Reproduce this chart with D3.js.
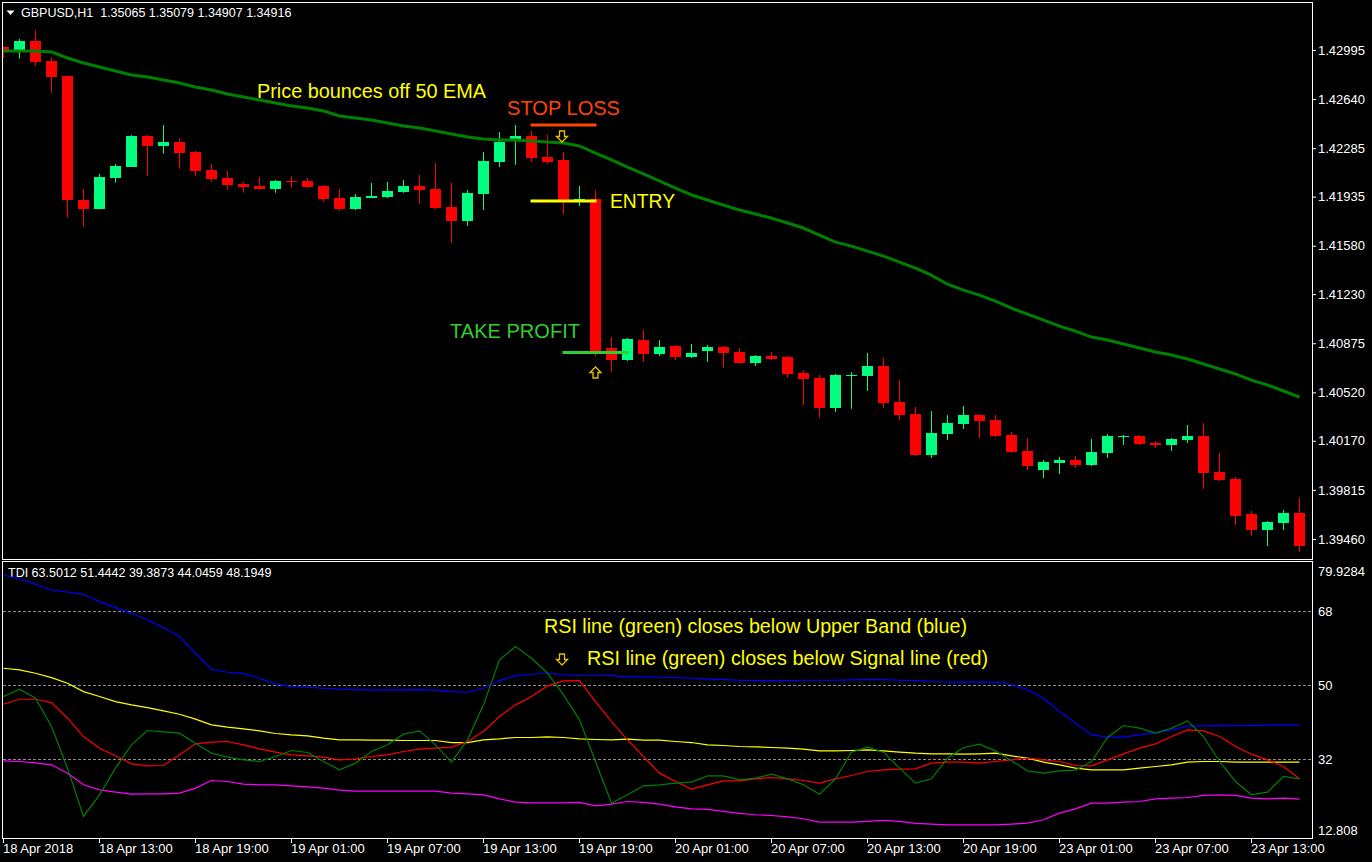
<!DOCTYPE html>
<html><head><meta charset="utf-8">
<script src="https://cdn.jsdelivr.net/npm/d3@7"></script>
<style>html,body{margin:0;padding:0;background:#000;}svg{display:block}</style>
</head><body><svg id="c" width="1372" height="862"></svg>
<script>
// ---------- DATA ----------
const opens = [1.43019,1.42995,1.43060,1.42915,1.42807,1.41911,1.41846,1.42072,1.42151,1.42373,1.42303,1.42330,1.42258,1.42127,1.42070,1.42026,1.42012,1.41990,1.42048,1.42048,1.42012,1.41925,1.41846,1.41925,1.41932,1.41969,1.42012,1.41990,1.41860,1.41759,1.41954,1.42185,1.42352,1.42373,1.42222,1.42200,1.41903,1.41918,1.40841,1.40754,1.40899,1.40797,1.40855,1.40776,1.40819,1.40848,1.40812,1.40732,1.40783,1.40776,1.40660,1.40624,1.40407,1.40638,1.40638,1.40711,1.40450,1.40364,1.40067,1.40219,1.40288,1.40356,1.40320,1.40212,1.40096,1.39959,1.40009,1.40031,1.39995,1.40082,1.40197,1.40205,1.40154,1.40139,1.40176,1.40205,1.39944,1.39894,1.39641,1.39525,1.39576,1.39648];
const highs = [1.43024,1.43075,1.43140,1.42942,1.42812,1.41990,1.42099,1.42171,1.42380,1.42380,1.42453,1.42354,1.42265,1.42171,1.42120,1.42041,1.42077,1.42055,1.42084,1.42070,1.42019,1.41990,1.41954,1.42034,1.42041,1.42055,1.42091,1.42178,1.42034,1.41983,1.42258,1.42402,1.42453,1.42410,1.42380,1.42258,1.42012,1.41983,1.40920,1.40913,1.40971,1.40899,1.40862,1.40870,1.40862,1.40855,1.40841,1.40790,1.40812,1.40783,1.40679,1.40646,1.40653,1.40667,1.40805,1.40769,1.40609,1.40414,1.40385,1.40356,1.40421,1.40364,1.40356,1.40233,1.40190,1.40031,1.40053,1.40060,1.40183,1.40219,1.40212,1.40212,1.40168,1.40190,1.40284,1.40298,1.40082,1.39908,1.39662,1.39590,1.39670,1.39756];
const lows = [1.42937,1.42932,1.42881,1.42686,1.41783,1.41718,1.41844,1.42036,1.42149,1.42086,1.42245,1.42137,1.42086,1.42043,1.41985,1.41963,1.41988,1.41963,1.42000,1.42000,1.41898,1.41833,1.41838,1.41923,1.41925,1.41962,1.41882,1.41846,1.41600,1.41723,1.41838,1.42149,1.42164,1.42185,1.42171,1.41809,1.41867,1.40783,1.40667,1.40747,1.40740,1.40783,1.40754,1.40769,1.40740,1.40696,1.40725,1.40711,1.40754,1.40624,1.40429,1.40335,1.40378,1.40400,1.40530,1.40407,1.40320,1.40060,1.40046,1.40176,1.40255,1.40190,1.40197,1.40082,1.39959,1.39901,1.39930,1.39973,1.39988,1.40046,1.40139,1.40139,1.40118,1.40096,1.40154,1.39822,1.39879,1.39561,1.39482,1.39409,1.39525,1.39366];
const closes = [1.42995,1.43060,1.42910,1.42802,1.41911,1.41846,1.42077,1.42156,1.42373,1.42303,1.42330,1.42250,1.42120,1.42065,1.42019,1.42005,1.41990,1.42048,1.42041,1.42005,1.41918,1.41846,1.41932,1.41940,1.41976,1.42012,1.41983,1.41853,1.41759,1.41962,1.42193,1.42330,1.42373,1.42214,1.42185,1.41903,1.41918,1.40808,1.40754,1.40906,1.40797,1.40848,1.40776,1.40808,1.40848,1.40805,1.40732,1.40783,1.40761,1.40653,1.40617,1.40407,1.40646,1.40646,1.40711,1.40443,1.40356,1.40067,1.40226,1.40295,1.40356,1.40313,1.40205,1.40089,1.39988,1.40017,1.40031,1.39995,1.40089,1.40205,1.40205,1.40147,1.40139,1.40183,1.40205,1.39937,1.39886,1.39626,1.39525,1.39583,1.39648,1.39409];
const ema50 = [1.42988,1.42988,1.42988,1.42981,1.42937,1.42901,1.42872,1.42843,1.42814,1.42800,1.42778,1.42756,1.42728,1.42706,1.42677,1.42655,1.42634,1.42612,1.42590,1.42576,1.42554,1.42518,1.42503,1.42489,1.42467,1.42446,1.42431,1.42410,1.42388,1.42366,1.42352,1.42344,1.42344,1.42337,1.42330,1.42323,1.42301,1.42250,1.42200,1.42149,1.42099,1.42048,1.41997,1.41947,1.41911,1.41874,1.41838,1.41809,1.41780,1.41744,1.41708,1.41657,1.41606,1.41577,1.41541,1.41505,1.41462,1.41418,1.41367,1.41302,1.41259,1.41223,1.41180,1.41129,1.41086,1.41042,1.40999,1.40963,1.40920,1.40899,1.40870,1.40841,1.40812,1.40790,1.40761,1.40725,1.40689,1.40653,1.40609,1.40573,1.40530,1.40486];

const tdiUpper = [76.70,75.73,74.43,73.06,72.57,72.01,70.23,68.77,67.39,65.78,63.92,61.73,57.69,53.80,53.07,52.75,51.62,50.24,49.60,49.43,49.19,48.95,48.87,48.71,48.79,48.79,48.87,48.71,48.38,48.22,49.19,51.05,52.27,52.59,52.83,52.43,52.35,52.35,52.27,51.94,51.94,51.86,51.78,51.62,51.46,51.29,51.13,51.05,51.05,51.05,51.13,51.13,51.13,51.21,51.29,51.29,51.13,51.05,50.89,50.65,50.65,50.65,50.65,50.16,48.79,46.76,43.53,40.70,37.86,37.30,37.30,37.86,38.35,39.08,39.97,40.05,40.13,40.13,40.13,40.21,40.21,40.21];
const tdiMiddle = [54.05,53.64,52.83,51.78,50.40,48.38,47.17,45.95,45.15,44.50,43.69,42.88,41.67,40.29,39.72,39.32,38.83,38.19,37.86,37.62,37.06,36.65,36.65,36.57,36.57,36.49,36.49,36.49,36.00,36.00,36.65,36.89,37.22,37.22,37.38,37.22,36.89,36.73,36.65,36.81,36.57,36.57,36.25,36.00,35.44,35.28,35.03,34.95,34.79,34.63,34.39,33.98,33.98,34.06,34.22,33.98,33.66,33.41,33.25,33.25,33.17,33.25,33.41,32.77,32.20,31.23,30.58,29.77,29.37,29.37,29.37,29.77,30.18,30.58,31.23,31.39,31.39,31.23,31.23,31.23,31.23,31.23];
const tdiLower = [31.55,31.39,31.07,30.58,28.56,25.73,24.51,23.95,23.46,23.54,23.54,23.71,24.92,26.78,26.54,25.89,25.73,25.73,25.49,25.24,24.92,24.43,24.19,24.19,24.19,24.19,24.19,24.19,23.71,23.54,23.30,22.33,21.52,21.36,21.36,21.36,21.44,20.63,21.04,21.68,21.44,21.04,20.39,19.90,19.74,19.26,18.77,18.45,18.28,17.96,17.48,16.67,16.67,16.67,16.83,17.07,16.83,16.34,16.18,16.02,16.02,16.02,16.02,16.18,16.42,17.23,18.85,19.90,21.28,21.28,21.52,21.68,22.33,22.49,22.65,23.14,23.30,23.14,22.49,22.33,22.49,22.25];
const tdiRsi = [47.17,48.95,46.76,39.89,29.77,18.04,23.30,29.77,35.44,38.92,38.60,38.27,35.84,33.41,32.44,31.80,31.39,32.61,34.06,33.58,31.39,29.37,30.99,33.82,35.44,38.03,38.83,35.44,31.23,36.65,45.15,56.07,59.30,56.47,52.83,47.57,41.50,31.39,21.28,23.30,25.49,25.73,26.13,26.40,27.91,27.91,26.94,27.35,28.32,27.18,25.73,23.46,27.18,33.66,34.87,33.66,29.77,26.13,27.18,32.20,34.79,35.60,33.98,31.55,29.13,28.56,29.13,29.29,31.39,37.22,40.13,39.48,38.27,39.48,41.26,37.46,31.39,26.54,23.30,23.95,27.75,27.18];
const tdiSignal = [45.31,46.52,46.52,45.71,41.91,37.46,34.63,32.77,30.83,30.34,30.42,33.01,35.68,36.08,36.25,35.44,34.47,33.66,33.01,32.77,32.44,31.80,32.04,32.61,33.01,33.82,34.39,34.63,34.87,36.25,38.67,42.31,45.15,47.17,49.76,50.97,51.05,45.95,41.10,36.65,32.61,28.56,26.54,24.68,25.73,26.70,26.70,27.18,27.51,27.18,26.78,26.13,27.18,27.99,28.96,29.37,29.53,29.61,30.99,31.23,31.23,30.99,31.39,31.80,32.20,31.80,31.39,30.42,30.34,31.80,33.25,34.63,35.68,37.46,39.08,38.83,37.46,35.03,33.17,31.80,30.18,27.18];

const priceTicks = [1.42995,1.42640,1.42285,1.41935,1.41580,1.41230,1.40875,1.40520,1.40170,1.39815,1.39460];
const tdiTicks = [79.9284,68,50,32,12.808];
const tdiLevels = [68,50,32];
const timeTickBars = [0,6,12,18,24,30,36,42,48,54,60,66,72,78];
const timeTickLabels = ["18 Apr 2018","18 Apr 13:00","18 Apr 19:00","19 Apr 01:00","19 Apr 07:00","19 Apr 13:00","19 Apr 19:00","20 Apr 01:00","20 Apr 07:00","20 Apr 13:00","20 Apr 19:00","23 Apr 01:00","23 Apr 07:00","23 Apr 13:00"];
const tdiHeaderValues = ["63.5012","51.4442","39.3873","44.0459","48.1949"];
const symbolHeader = "GBPUSD,H1  1.35065 1.35079 1.34907 1.34916";

const levelNames = ["STOP LOSS","ENTRY","TAKE PROFIT"];
const levelPrices = [1.42453,1.41903,1.40808];
const levelFromBar = [33,33,35];
const levelToBar = [37,37,39];

// ---------- CHART ----------
const svg = d3.select('#c');
const FONT = "'Liberation Sans', Arial, sans-serif";
svg.append('rect').attr('width',1372).attr('height',862).attr('fill','#000');

const PL=2, PR=1312, T1=2, B1=559, T2=561, B2=838;
const n = opens.length;
const x = d3.scaleLinear().domain([0, n-1]).range([3.5, 1299.5]);
const yP = d3.scaleLinear().domain([1.39460, 1.42995]).range([539, 50]);
const yT = d3.scaleLinear().domain([12.808, 79.9284]).range([838, 561.7]);

const defs = svg.append('defs');
defs.append('clipPath').attr('id','clipTop').append('rect').attr('x',PL+1).attr('y',T1+1).attr('width',PR-PL-1).attr('height',B1-T1-1);
defs.append('clipPath').attr('id','clipBot').append('rect').attr('x',PL+1).attr('y',T2+1).attr('width',PR-PL-1).attr('height',B2-T2-1);

// frames
svg.append('rect').attr('x',PL+0.5).attr('y',T1+0.5).attr('width',PR-PL).attr('height',B1-T1).attr('fill','none').attr('stroke','#fff');
svg.append('rect').attr('x',PL+0.5).attr('y',T2+0.5).attr('width',PR-PL).attr('height',B2-T2).attr('fill','none').attr('stroke','#fff');

// --- top panel ---
const gTop = svg.append('g').attr('clip-path','url(#clipTop)');
const idx = d3.range(n);
const bull = '#00ff7f', bear = '#ff0000';
gTop.selectAll('line.wick').data(idx).join('line').attr('class','wick')
  .attr('x1',i=>x(i)).attr('x2',i=>x(i))
  .attr('y1',i=>yP(highs[i])).attr('y2',i=>yP(lows[i]))
  .attr('stroke',i=>closes[i]>=opens[i]?bull:bear).attr('stroke-width',1);
gTop.selectAll('rect.body').data(idx).join('rect').attr('class','body')
  .attr('x',i=>x(i)-5.5).attr('width',11)
  .attr('y',i=>Math.round(yP(Math.max(opens[i],closes[i]))))
  .attr('height',i=>Math.max(1, Math.round(Math.abs(yP(opens[i])-yP(closes[i])))))
  .attr('fill',i=>closes[i]>=opens[i]?bull:bear);

gTop.append('path').datum(ema50)
  .attr('d', d3.line().x((d,i)=>x(i)).y(d=>yP(d)))
  .attr('fill','none').attr('stroke','#008000').attr('stroke-width',3).attr('stroke-linejoin','round');

// level lines
const levelColors = ['#ff4500','#ffff00','#32cd32'];
levelNames.forEach((nm,k)=>{
  gTop.append('line').attr('x1',x(levelFromBar[k])-1).attr('x2',x(levelToBar[k])+1)
    .attr('y1',yP(levelPrices[k])).attr('y2',yP(levelPrices[k]))
    .attr('stroke',levelColors[k]).attr('stroke-width',3);
});

function arrow(g, cx, top, down){
  const h=11, sw=2.5, hw=5.5, sh=5.5;
  let pts;
  if(down) pts=[[cx-sw,top],[cx+sw,top],[cx+sw,top+sh],[cx+hw,top+sh],[cx,top+h],[cx-hw,top+sh],[cx-sw,top+sh]];
  else pts=[[cx-sw,top+h],[cx+sw,top+h],[cx+sw,top+h-sh],[cx+hw,top+h-sh],[cx,top],[cx-hw,top+h-sh],[cx-sw,top+h-sh]];
  g.append('path').attr('d','M'+pts.map(p=>p.join(',')).join('L')+'Z')
    .attr('fill','none').attr('stroke','#e8c400').attr('stroke-width',1.3);
}
arrow(svg, x(35)-1.5, 131, true);
arrow(svg, x(37), 367, false);
arrow(svg, x(35)-1.5, 654, true);

function label(txt, px, py, color, len){
  svg.append('text').attr('x',px).attr('y',py).attr('fill',color)
    .attr('font-family',FONT).attr('font-size',20)
    .attr('textLength',len).attr('lengthAdjust','spacingAndGlyphs').text(txt);
}
label('Price bounces off 50 EMA', 257, 98, '#ffff00', 229);
label(levelNames[0], 507, 115, '#ff4500', 113);
label(levelNames[1], 610, 208, '#ffff00', 65);
label(levelNames[2], 450, 338, '#32cd32', 130);
label('RSI line (green) closes below Upper Band (blue)', 544, 633, '#ffff00', 423);
label('RSI line (green) closes below Signal line (red)', 587, 665, '#ffff00', 401);

// header
svg.append('path').attr('d','M6.5,10.5L14.5,10.5L10.5,15Z').attr('fill','#fff');
svg.append('text').attr('x',21).attr('y',17).attr('fill','#fff').attr('font-family',FONT).attr('font-size',12.5)
  .attr('xml:space','preserve').style('white-space','pre').text(symbolHeader);
svg.append('text').attr('x',8).attr('y',577).attr('fill','#fff').attr('font-family',FONT).attr('font-size',12.5)
  .text('TDI ' + tdiHeaderValues.join(' '));

// price axis
const pAxis = svg.append('g').attr('transform',`translate(${PR},0)`)
  .call(d3.axisRight(yP).tickValues(priceTicks).tickFormat(d3.format('.5f')).tickSize(4).tickSizeOuter(0));
pAxis.select('.domain').remove();
pAxis.selectAll('line').attr('stroke','#fff');
pAxis.selectAll('text').attr('fill','#fff').attr('font-family',FONT).attr('font-size',13).attr('x',6);

// --- lower panel ---
const gBot = svg.append('g').attr('clip-path','url(#clipBot)');
gBot.selectAll('line.lvl').data(tdiLevels).join('line').attr('class','lvl')
  .attr('x1',PL+1).attr('x2',PR).attr('y1',d=>Math.round(yT(d))+0.5).attr('y2',d=>Math.round(yT(d))+0.5)
  .attr('stroke','#8c8c8c').attr('stroke-dasharray','3,2').attr('stroke-width',1);
const tline = d3.line().x((d,i)=>x(i)).y(d=>yT(d));
const series = [[tdiLower,'#ff00ff'],[tdiMiddle,'#ffff00'],[tdiUpper,'#0000ff'],[tdiSignal,'#ff0000'],[tdiRsi,'#008000']];
series.forEach(([arr,col])=>{
  gBot.append('path').datum(arr).attr('d',tline).attr('fill','none').attr('stroke',col).attr('stroke-width',1.2);
});

const tAxis = svg.append('g').attr('transform',`translate(${PR},0)`)
  .call(d3.axisRight(yT).tickValues(tdiTicks).tickFormat(d=>String(d)).tickSize(0).tickSizeOuter(0));
tAxis.select('.domain').remove();
tAxis.selectAll('text').attr('fill','#fff').attr('font-family',FONT).attr('font-size',13).attr('x',6)
  .attr('dy',(d,i)=> i===0 ? '1.1em' : (i===tdiTicks.length-1 ? '-0.25em' : '0.35em'));

// time axis
const xAxis = svg.append('g').attr('transform',`translate(0,${B2})`)
  .call(d3.axisBottom(x).tickValues(timeTickBars).tickFormat((d,i)=>timeTickLabels[i]).tickSize(5).tickSizeOuter(0));
xAxis.select('.domain').remove();
xAxis.selectAll('line').attr('stroke','#fff').attr('transform','translate(-0.5,0)');
xAxis.selectAll('text').attr('fill','#fff').attr('font-family',FONT).attr('font-size',13)
  .attr('text-anchor','start').attr('x',-1).attr('y',6);
</script></body></html>
